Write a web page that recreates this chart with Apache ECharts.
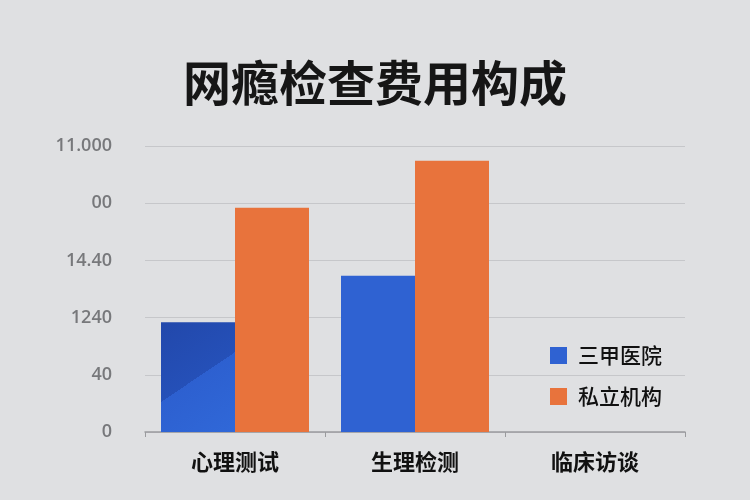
<!DOCTYPE html>
<html><head><meta charset="utf-8">
<script src="https://cdn.jsdelivr.net/npm/echarts@6/dist/echarts.min.js"></script>
<style>html,body{margin:0;padding:0;background:#dfe0e2}#c{width:750px;height:500px}</style>
</head><body><div id="c"></div>
<script>
const categories = ['心理测试', '生理检测', '临床访谈'];
const seriesNames = ['三甲医院', '私立机构'];
const hospitalValues = [1.92, 2.73, null];
const privateValues = [3.92, 4.74, null];
const tickLabels = ['0', '40', '1240', '14.40', '00', '11.000'];

const blueGrad = new echarts.graphic.LinearGradient(0, 0, 1, 1, [
  { offset: 0, color: '#2248ab' }, { offset: 0.5, color: '#2550b8' },
  { offset: 0.5, color: '#2d60d0' }, { offset: 1, color: '#3068d8' }]);

const chart = echarts.init(document.getElementById('c'));
chart.setOption({
  backgroundColor: '#dfe0e2',
  animation: false,
  title: {
    text: '网瘾检查费用构成', left: 'center', top: 54,
    textStyle: { fontFamily: 'Noto Sans CJK SC', fontSize: 48, fontWeight: 'bold', color: '#161616' }
  },
  legend: {
    orient: 'vertical', left: 545, top: 340, itemGap: 20,
    itemWidth: 17, itemHeight: 17, icon: 'rect',
    textStyle: { fontFamily: 'Noto Sans CJK SC', fontSize: 21, fontWeight: 500, color: '#111', padding: [0, 0, 0, 6] },
    data: seriesNames
  },
  grid: { left: 145, right: 65, top: 146, bottom: 68 },
  xAxis: {
    type: 'category', data: categories,
    axisLine: { lineStyle: { color: '#9a9b9e', width: 1.5 } },
    axisTick: { show: true, length: 5, lineStyle: { color: '#9a9b9e' } },
    axisLabel: { margin: 19, fontFamily: 'Noto Sans CJK SC', fontSize: 22, fontWeight: 'bold', color: '#111' }
  },
  yAxis: {
    type: 'value', min: 0, max: 5, interval: 1,
    axisLine: { show: false }, axisTick: { show: false },
    splitLine: { lineStyle: { color: '#c6c7ca', width: 1 } },
    axisLabel: {
      margin: 33, fontFamily: 'Open Sans', fontSize: 18, fontWeight: 600, color: '#77787b',
      formatter: v => tickLabels[Math.round(v)]
    }
  },
  series: [
    { name: seriesNames[0], type: 'bar', barWidth: 74, barGap: '0%',
      data: hospitalValues.map((v, i) => i === 0 ? { value: v, itemStyle: { color: blueGrad } } : v),
      itemStyle: { color: '#2f62d2' } },
    { name: seriesNames[1], type: 'bar', data: privateValues, barWidth: 74,
      itemStyle: { color: '#e8733c' } }
  ]
});
</script></body></html>
